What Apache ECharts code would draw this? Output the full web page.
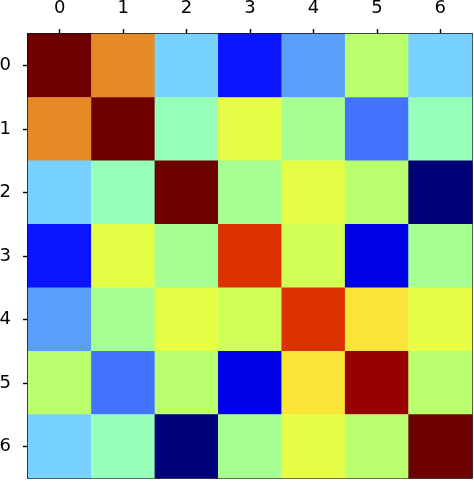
<!DOCTYPE html>
<html><head><meta charset="utf-8">
<script src="https://cdn.jsdelivr.net/npm/echarts@6/dist/echarts.min.js"></script>
<style>html,body{margin:0;padding:0;background:#fff}#c{width:474px;height:481px}</style>
</head><body><div id="c"></div>
<script>
var xLabels = ['0','1','2','3','4','5','6'];
var yLabels = ['0','1','2','3','4','5','6'];
var row0 = [1.00, 0.78, 0.35, 0.11, 0.28, 0.55, 0.35];
var row1 = [0.78, 1.00, 0.45, 0.64, 0.50, 0.22, 0.45];
var row2 = [0.35, 0.45, 1.00, 0.50, 0.64, 0.55, 0.00];
var row3 = [0.11, 0.64, 0.50, 0.88, 0.60, 0.08, 0.50];
var row4 = [0.28, 0.50, 0.64, 0.60, 0.88, 0.70, 0.64];
var row5 = [0.55, 0.22, 0.55, 0.08, 0.70, 0.95, 0.55];
var row6 = [0.35, 0.45, 0.00, 0.50, 0.64, 0.55, 1.00];
var rows = [row0,row1,row2,row3,row4,row5,row6];

// colour ramp stops (position, rgb)
var stops = [
 [0.00,[0,0,120]],[0.08,[0,0,230]],[0.11,[10,20,255]],[0.22,[65,115,255]],
 [0.28,[90,160,250]],[0.35,[120,210,255]],[0.45,[150,255,185]],[0.50,[165,255,145]],
 [0.55,[185,255,110]],[0.60,[210,255,85]],[0.64,[230,255,70]],[0.70,[250,228,55]],
 [0.78,[230,138,38]],[0.88,[220,50,0]],[0.95,[150,0,0]],[1.00,[110,0,0]]
];
function rampColor(t){
  for(var i=0;i<stops.length-1;i++){
    var a=stops[i],b=stops[i+1];
    if(t<=b[0]+1e-9){
      var f=(t-a[0])/(b[0]-a[0]);
      var c=[0,1,2].map(function(k){return Math.round(a[1][k]+(b[1][k]-a[1][k])*f);});
      return 'rgb('+c.join(',')+')';
    }
  }
  return 'rgb(110,0,0)';
}
var colors=[];
for(var i=0;i<=200;i++) colors.push(rampColor(i/200));

var data=[];
rows.forEach(function(r,yi){ r.forEach(function(v,xi){ data.push([xi,yi,v]); }); });

var chart = echarts.init(document.getElementById('c'));
var font = {fontFamily:'DejaVu Sans', fontSize:18, color:'#000'};
chart.setOption({
  animation:false,
  grid:{left:28,top:34,width:444,height:444,show:true,borderColor:'#000',borderWidth:1.6,backgroundColor:'transparent',outerBoundsMode:'none',containLabel:false},
  xAxis:{type:'category',data:xLabels,position:'top',
    axisLine:{show:true,lineStyle:{color:'#000',width:1.6}},
    axisTick:{show:true,alignWithLabel:true,length:5,lineStyle:{color:'#000',width:1.4}},
    axisLabel:Object.assign({margin:17},font),splitLine:{show:false}},
  yAxis:{type:'category',data:yLabels,inverse:true,
    axisLine:{show:true,lineStyle:{color:'#000',width:1.6}},
    axisTick:{show:true,alignWithLabel:true,length:5,lineStyle:{color:'#000',width:1.4}},
    axisLabel:Object.assign({margin:17},font),splitLine:{show:false}},
  visualMap:{show:false,min:0,max:1,calculable:false,inRange:{color:colors}},
  series:[{type:'heatmap',data:data,itemStyle:{borderWidth:0},emphasis:{disabled:true}}]
});
</script></body></html>
